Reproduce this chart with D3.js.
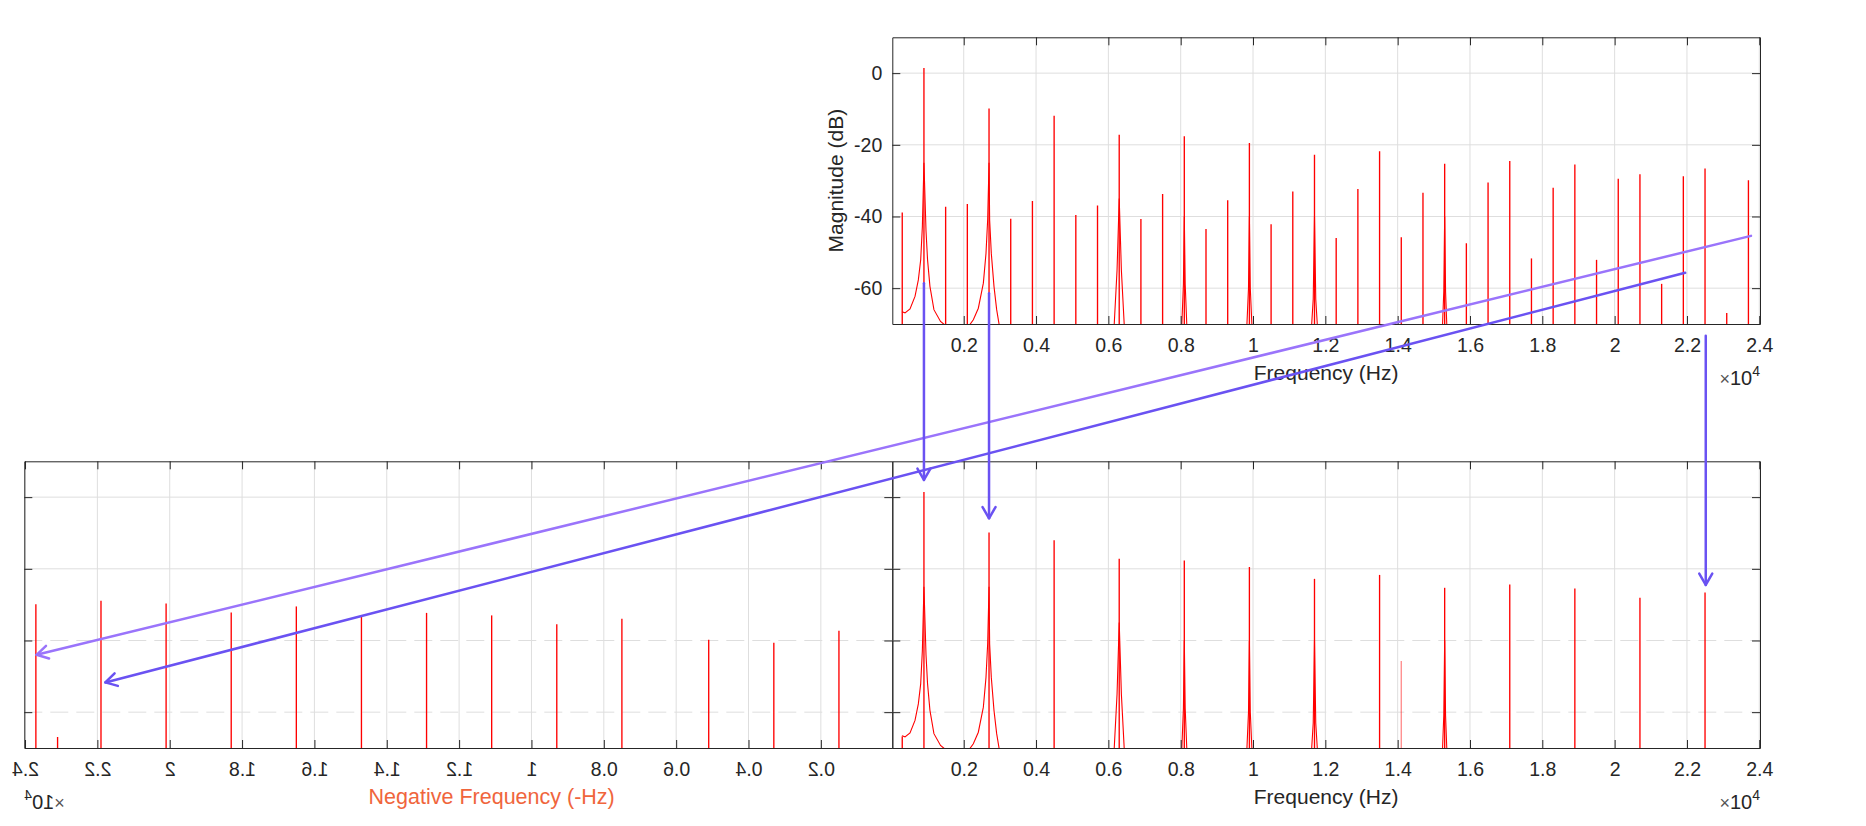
<!DOCTYPE html>
<html>
    <head>
        <meta charset="utf-8">
        <style>
            body { margin: 0; background: white; }
            svg { display: block; }
            .grid { stroke: #dedede; stroke-width: 1; }
            .spike { stroke: #ff0000; stroke-width: 1.35; fill: none; }
            .skirt { stroke: #ff0000; stroke-width: 1.1; fill: none; }
            .label { font-family: "Liberation Sans", Arial, Helvetica, sans-serif; fill: #262626; }
        </style>
    </head>
    <body>
        <div id="chart"></div>
        <script src="https://cdn.jsdelivr.net/npm/d3@7"></script>
        <script>

//////////////////// data ////////////////////
// odd harmonics of the 300 Hz tone (Hz) and their level on the top spectrum (dB)
let top_freqs = [300, 900, 1500, 2100, 2700, 3300, 3900, 4500, 5100, 5700,
    6300, 6900, 7500, 8100, 8700, 9300, 9900, 10500, 11100, 11700,
    12300, 12900, 13500, 14100, 14700, 15300, 15900, 16500, 17100, 17700,
    18300, 18900, 19500, 20100, 20700, 21300, 21900, 22500, 23100, 23700];
let top_db = [-38.9, 1.4, -37.3, -36.5, -9.9, -40.6, -35.7, -11.9, -39.6, -36.9,
    -17.2, -40.7, -33.7, -17.6, -43.5, -35.5, -19.5, -42.2, -33.0, -22.8,
    -46.0, -32.3, -21.8, -45.8, -33.4, -25.3, -47.5, -30.5, -24.5, -51.7,
    -32.0, -25.5, -52.1, -29.5, -28.2, -58.8, -28.8, -26.6, -66.9, -29.9];

// bottom right : positive frequencies kept
let pos_freqs = [300, 900, 2700, 4500, 6300, 8100, 9900, 11700, 13500, 15300, 17100, 18900, 20700, 22500];
let pos_db = [-66.8, 1.4, -9.9, -12.0, -17.2, -17.7, -19.5, -22.8, -21.7, -25.3, -24.4, -25.5, -28.1, -26.6];
let pos_faint_freqs = [14100];
let pos_faint_db = [-45.7];

// bottom left : negative frequencies (axis reversed)
let neg_freqs = [23700, 23100, 21900, 20100, 18300, 16500, 14700, 12900, 11100, 9300, 7500, 5100, 3300, 1500];
let neg_db = [-29.9, -66.9, -28.9, -29.7, -32.2, -30.5, -33.2, -32.3, -33.0, -35.5, -33.9, -39.8, -40.6, -37.3];

// resonance skirts read on the curve [Hz, dB]
let skirt_900 = [[290, -66.6], [377, -66.9], [515, -65.8], [653, -62.3], [745, -57.7], [810, -52.1], [856, -42.9],
    [900, -25], [957, -44], [1000, -52.1], [1066, -59.5], [1176, -66], [1359, -69.3], [1507, -70.5]];
let skirt_2700 = [[2146, -70.5], [2266, -68.8], [2404, -65.6], [2543, -58.6], [2616, -50.3], [2662, -41],
    [2700, -25], [2717, -41], [2763, -50.3], [2837, -59.5], [2911, -66], [2985, -70.5]];
let skirt_6300 = [[6160, -70.5], [6240, -55], [6300, -35], [6360, -55], [6440, -70.5]];
let skirt_8100 = [[8030, -70.5], [8075, -59], [8100, -40], [8125, -59], [8170, -70.5]];
let skirt_9900 = [[9830, -70.5], [9875, -60], [9900, -40], [9925, -60], [9970, -70.5]];
let skirt_11700 = [[11620, -70.5], [11665, -63], [11700, -40], [11735, -63], [11780, -70.5]];
let skirt_15300 = [[15240, -70.5], [15275, -61], [15300, -40], [15325, -61], [15360, -70.5]];
let skirts = [skirt_900, skirt_2700, skirt_6300, skirt_8100, skirt_9900, skirt_11700, skirt_15300];

// axes
let x_ticks = [2000, 4000, 6000, 8000, 10000, 12000, 14000, 16000, 18000, 20000, 22000, 24000];
let x_tick_labels = ['0.2', '0.4', '0.6', '0.8', '1', '1.2', '1.4', '1.6', '1.8', '2', '2.2', '2.4'];
let y_ticks = [0, -20, -40, -60];
let y_tick_labels = ['0', '-20', '-40', '-60'];

// arrows [panel, Hz, dB]
let arrow_starts = [['top', 23770, -45.4], ['top', 21950, -55.7], ['top', 900, -58.6], ['top', 2700, -61.4], ['top', 22520, -73.3]];
let arrow_ends = [['neg', 23680, -44.0], ['neg', 21780, -51.7], ['pos', 900, 4.8], ['pos', 2700, -5.9], ['pos', 22520, -24.5]];

//////////////////// layout ////////////////////
let W = 1866, H = 826;
let F_MIN = 25, F_MAX = 24020;
let DB_MIN = -70, DB_MAX = 10;
let PANEL_H = 286.7;
let TOP_Y = 37.3, LOW_Y = 461.3;
let LEFT_X = 24.3, MID_X = 892.3, RIGHT_X = 1760;
let FONT = '"Liberation Sans", Arial, Helvetica, sans-serif';
let TEXT = '#262626';
let ARROW_COLORS = ['#9a74fb', '#6a52f2', '#6a52f2', '#6a52f2', '#6a52f2'];

let svg = d3.select('#chart').append('svg')
    .attr('width', W)
    .attr('height', H);

//////////////////// panels ////////////////////
function makePanel(id, x0, x1, y0, reversed, dashed) {
    let x = d3.scaleLinear().domain(reversed ? [F_MAX, F_MIN] : [F_MIN, F_MAX]).range([x0, x1]);
    let y = d3.scaleLinear().domain([DB_MIN, DB_MAX]).range([y0 + PANEL_H, y0]);
    let g = svg.append('g').attr('id', id);

    g.append('clipPath').attr('id', 'clip_' + id)
        .append('rect')
        .attr('x', x0).attr('y', y0)
        .attr('width', x1 - x0).attr('height', PANEL_H);

    // grille
    g.append('g').selectAll('line').data(x_ticks).join('line')
        .classed('grid', true)
        .attr('x1', d => x(d)).attr('x2', d => x(d))
        .attr('y1', y0).attr('y2', y0 + PANEL_H);
    g.append('g').selectAll('line').data(y_ticks).join('line')
        .classed('grid', true)
        .attr('x1', x0).attr('x2', x1)
        .attr('y1', d => y(d)).attr('y2', d => y(d))
        .attr('stroke-dasharray', d => (dashed && d <= -40) ? '18,8' : null);

    let plot = g.append('g').attr('clip-path', `url(#clip_${id})`);
    return {id, g, plot, x, y, x0, x1, y0, y1: y0 + PANEL_H, reversed};
}

function drawSpikes(p, freqs, dbs, opacity) {
    p.plot.append('g').selectAll('line').data(d3.zip(freqs, dbs)).join('line')
        .classed('spike', true)
        .attr('opacity', opacity)
        .attr('x1', d => p.x(d[0])).attr('x2', d => p.x(d[0]))
        .attr('y1', p.y(DB_MIN - 1)).attr('y2', d => p.y(d[1]));
}

function drawSkirts(p) {
    let line = d3.line().x(d => p.x(d[0])).y(d => p.y(d[1]));
    p.plot.append('g').selectAll('path').data(skirts).join('path')
        .classed('skirt', true)
        .attr('d', line);
}

function styleAxis(sel) {
    sel.attr('font-size', 19.5)
        .attr('font-family', FONT)
        .style('color', TEXT);
    sel.selectAll('.domain').attr('stroke-width', 1);
}

function drawAxes(p, y_labels) {
    let fmt_x = d => x_tick_labels[x_ticks.indexOf(d)];
    let fmt_y = d => y_labels ? y_tick_labels[y_ticks.indexOf(d)] : '';

    let bottom = p.g.append('g')
        .attr('transform', `translate(0, ${p.y1})`)
        .call(d3.axisBottom(p.x).tickValues(x_ticks).tickFormat(fmt_x)
            .tickSizeInner(-8).tickSizeOuter(0).tickPadding(14));
    styleAxis(bottom);
    if (p.reversed) {
        // etiquettes en miroir
        bottom.selectAll('text').attr('transform', 'scale(-1,1)');
    }

    let top = p.g.append('g')
        .attr('transform', `translate(0, ${p.y0})`)
        .call(d3.axisTop(p.x).tickValues(x_ticks).tickFormat('')
            .tickSizeInner(-8).tickSizeOuter(0));
    styleAxis(top);

    let left = p.g.append('g')
        .attr('transform', `translate(${p.x0}, 0)`)
        .call(d3.axisLeft(p.y).tickValues(y_ticks).tickFormat(fmt_y)
            .tickSizeInner(-8).tickSizeOuter(0).tickPadding(10));
    styleAxis(left);

    let right = p.g.append('g')
        .attr('transform', `translate(${p.x1}, 0)`)
        .call(d3.axisRight(p.y).tickValues(y_ticks).tickFormat('')
            .tickSizeInner(-8).tickSizeOuter(0));
    styleAxis(right);
}

function drawExponent(p) {
    // x10^4 sous l'axe, a droite (en miroir pour le panneau inverse)
    let anchor_x = p.reversed ? p.x0 : p.x1;
    let g = svg.append('g')
        .attr('transform', p.reversed ? `translate(${anchor_x}, 0) scale(-1,1)` : `translate(${anchor_x}, 0)`);
    let t = g.append('text')
        .classed('label', true)
        .attr('x', 0)
        .attr('y', p.y1 + 61)
        .attr('text-anchor', 'end');
    t.append('tspan').attr('font-size', 18).attr('fill', '#555').text('\u00d7');
    t.append('tspan').attr('font-size', 20).text('10');
    t.append('tspan').attr('font-size', 14).attr('dy', -9).text('4');
}

let p_top = makePanel('top', MID_X, RIGHT_X, TOP_Y, false, false);
let p_neg = makePanel('neg', LEFT_X, MID_X, LOW_Y, true, true);
let p_pos = makePanel('pos', MID_X, RIGHT_X, LOW_Y, false, true);
let panels = {top: p_top, neg: p_neg, pos: p_pos};

// spectres
drawSkirts(p_top);
drawSpikes(p_top, top_freqs, top_db, 1);
drawSkirts(p_pos);
drawSpikes(p_pos, pos_freqs, pos_db, 1);
drawSpikes(p_pos, pos_faint_freqs, pos_faint_db, 0.45);
drawSpikes(p_neg, neg_freqs, neg_db, 1);

// axes
drawAxes(p_top, true);
drawAxes(p_neg, false);
drawAxes(p_pos, false);
drawExponent(p_top);
drawExponent(p_neg);
drawExponent(p_pos);

//////////////////// titres ////////////////////
svg.append('text')
    .classed('label', true)
    .attr('transform', `translate(${p_top.x0 - 49.6}, ${(p_top.y0 + p_top.y1) / 2}) rotate(-90)`)
    .attr('text-anchor', 'middle')
    .attr('font-size', 21)
    .text('Magnitude (dB)');

svg.append('text')
    .classed('label', true)
    .attr('x', (p_top.x0 + p_top.x1) / 2)
    .attr('y', p_top.y1 + 56.3)
    .attr('text-anchor', 'middle')
    .attr('font-size', 21)
    .text('Frequency (Hz)');

svg.append('text')
    .classed('label', true)
    .attr('x', (p_pos.x0 + p_pos.x1) / 2)
    .attr('y', p_pos.y1 + 56.3)
    .attr('text-anchor', 'middle')
    .attr('font-size', 21)
    .text('Frequency (Hz)');

svg.append('text')
    .classed('label', true)
    .attr('x', p_neg.x(11100))
    .attr('y', p_neg.y1 + 56.3)
    .attr('text-anchor', 'middle')
    .attr('font-size', 21.5)
    .style('fill', '#f0653c')
    .text('Negative Frequency (-Hz)');

//////////////////// fleches ////////////////////
let ARROW_ARM = 13;
let ARROW_ANGLE = Math.PI / 6;

arrow_starts.forEach((s, idx) => {
    let e = arrow_ends[idx];
    let ps = panels[s[0]], pe = panels[e[0]];
    let x1 = ps.x(s[1]), y1 = ps.y(s[2]);
    let x2 = pe.x(e[1]), y2 = pe.y(e[2]);
    let color = ARROW_COLORS[idx];

    svg.append('line')
        .attr('x1', x1).attr('y1', y1)
        .attr('x2', x2).attr('y2', y2)
        .attr('stroke', color)
        .attr('stroke-width', 2.5)
        .attr('stroke-linecap', 'round');

    // pointe ouverte
    let a = Math.atan2(y1 - y2, x1 - x2);
    let arm = (da) => [x2 + ARROW_ARM * Math.cos(a + da), y2 + ARROW_ARM * Math.sin(a + da)];
    let p1 = arm(ARROW_ANGLE), p2 = arm(-ARROW_ANGLE);
    svg.append('path')
        .attr('d', `M ${p1[0]} ${p1[1]} L ${x2} ${y2} L ${p2[0]} ${p2[1]}`)
        .attr('fill', 'none')
        .attr('stroke', color)
        .attr('stroke-width', 2.5)
        .attr('stroke-linecap', 'round')
        .attr('stroke-linejoin', 'round');
});

        </script>
    </body>
</html>
